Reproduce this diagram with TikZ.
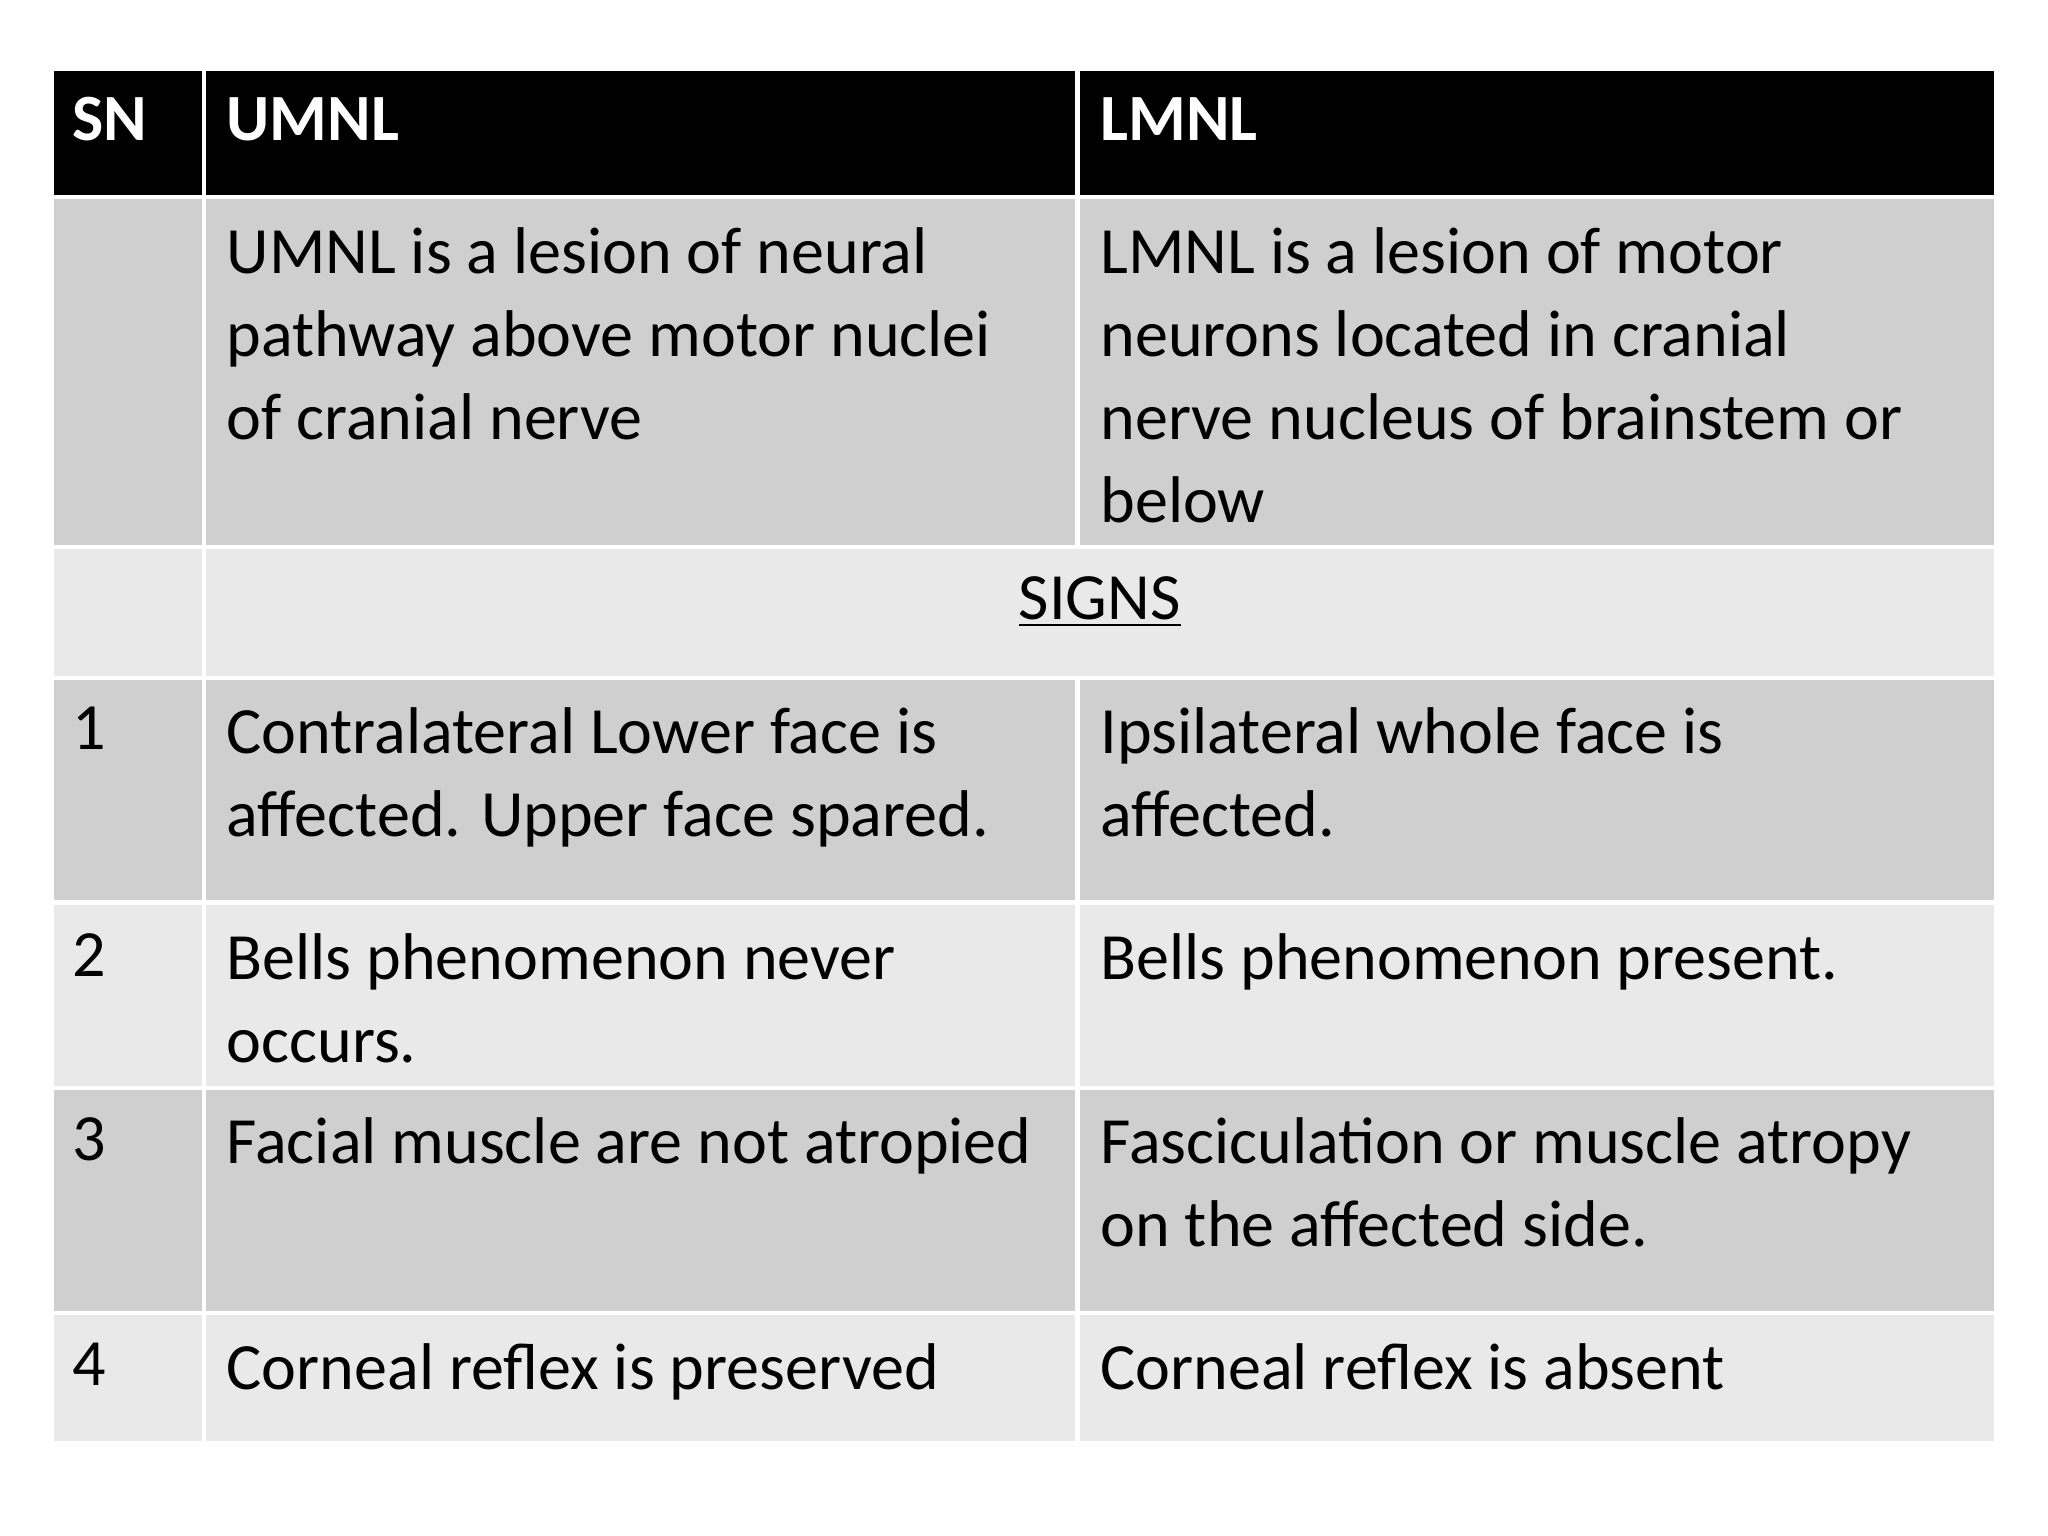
\documentclass[tikz,border=0pt]{standalone}
\usepackage{fontspec}
\setmainfont{Carlito}
\usetikzlibrary{positioning}
\definecolor{darkrow}{HTML}{CFCFCF}
\definecolor{lightrow}{HTML}{E9E9E9}
\begin{document}
\begin{tikzpicture}[x=0.013061cm, y=-0.013061cm]
    \tikzset{
        cell/.style={draw=white, line width=1.2pt},
        txt/.style={anchor=north west, inner sep=0pt, align=left,
            font=\fontsize{18.8}{23.6}\selectfont},
        head/.style={anchor=north west, inner sep=0pt, text=white,
            font=\fontsize{18.8}{23.6}\selectfont\bfseries}
    }
    \useasboundingbox[fill=white] (0,0) rectangle (1568,1176);

    % cell backgrounds: top/bottom/colour
    \foreach \t/\b/\c in {53/151/black, 151/419/darkrow, 419/519/lightrow,
                          519/691/darkrow, 691/833/lightrow, 833/1005/darkrow,
                          1005/1105/lightrow} {
        \fill[\c] (40,\t) rectangle (1528,\b);
        \draw[cell] (40,\t) rectangle (156,\b);
        \draw[cell] (156,\t) rectangle (1528,\b);
    }
    \foreach \t/\b in {53/151, 151/419, 519/691, 691/833, 833/1005, 1005/1105}
        \draw[cell] (825,\t) -- (825,\b);

    % header
    \node[head] (sn) at (55,74) {SN};
    \node[head] (umnl) at (173,74) {UMNL};
    \node[head] (lmnl) at (842,74) {LMNL};

    % definition
    \node[txt] (defu) at (173,174) {UMNL is a lesion of neural\\pathway above motor nuclei\\of cranial nerve};
    \node[txt] (defl) at (842,174) {LMNL is a lesion of motor\\neurons located in cranial\\nerve nucleus of brainstem or\\below};

    \node[anchor=north, inner sep=0pt, font=\fontsize{18.8}{23.6}\selectfont] (signs) at (842,441) {\underline{SIGNS}};

    % signs
    \node[txt] (n1) at (55,541) {1};
    \node[txt] (u1) at (173,541) {Contralateral Lower face is\\affected. Upper face spared.};
    \node[txt] (l1) at (842,541) {Ipsilateral whole face is\\affected.};

    \node[txt] (n2) at (55,714) {2};
    \node[txt] (u2) at (173,714) {Bells phenomenon never\\occurs.};
    \node[txt] (l2) at (842,714) {Bells phenomenon present.};

    \node[txt] (n3) at (55,855) {3};
    \node[txt] (u3) at (173,855) {Facial muscle are not atropied};
    \node[txt] (l3) at (842,855) {Fasciculation or muscle atropy\\on the affected side.};

    \node[txt] (n4) at (55,1028) {4};
    \node[txt] (u4) at (173,1028) {Corneal reflex is preserved};
    \node[txt] (l4) at (842,1028) {Corneal reflex is absent};
\end{tikzpicture}
\end{document}
